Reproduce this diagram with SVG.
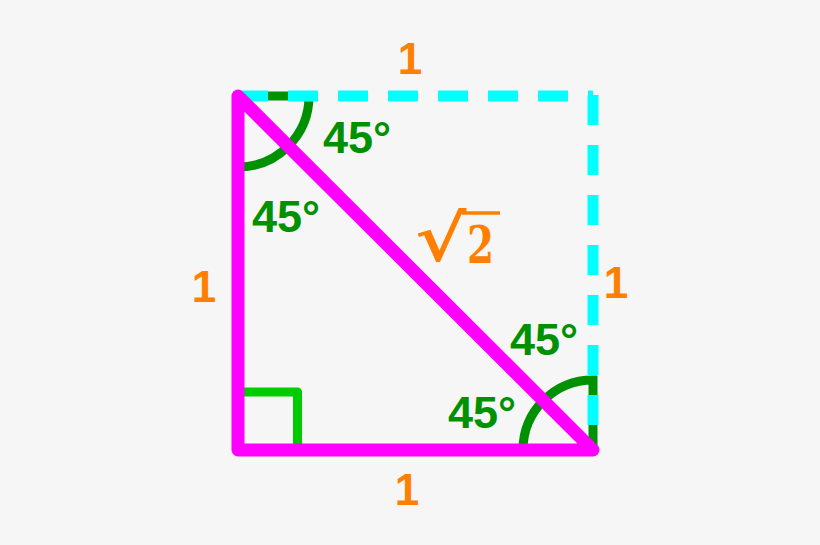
<svg xmlns="http://www.w3.org/2000/svg" width="820" height="545" viewBox="0 0 820 545">
<style>
.ang{fill:none;stroke:#009100;stroke-width:9;stroke-linejoin:miter}
.right{fill:none;stroke:#00cc00;stroke-width:9;stroke-linejoin:round}
.dash{fill:none;stroke:#00ffff;stroke-width:11;stroke-dasharray:30 20}
.tri{fill:none;stroke:#ff00ff;stroke-width:13;stroke-linejoin:round;stroke-linecap:round}
.one{font-family:"Liberation Sans",Arial,sans-serif;font-weight:bold;font-size:44px;fill:#ff8000;text-anchor:middle}
.deg{font-family:"Liberation Sans",Arial,sans-serif;font-weight:bold;font-size:45px;fill:#009100}
.rad{font-family:"DejaVu Serif",serif;font-weight:bold;fill:#ff8000}
</style>
<rect width="820" height="545" fill="#f6f6f6"/>
<g id="angle-marks">
<path id="arc-top" class="ang" d="M238,96 H309 A71,71 0 0 1 238,167 Z"/>
<path id="arc-bottom" class="ang" d="M593,450 H523 A70,70 0 0 1 593,380 Z"/>
<path id="right-angle" class="right" d="M238,392 H297.5 V450"/>
</g>
<g id="connectors">
<line class="dash" x1="238" y1="96" x2="593" y2="96"/>
<line class="dash" x1="593" y1="95" x2="593" y2="450"/>
<path class="tri" d="M238,96 L238,450 L593,450 Z"/>
</g>
<g id="labels">
<text class="one" x="410" y="74">1</text>
<text class="one" x="204" y="302">1</text>
<text class="one" x="616" y="298">1</text>
<text class="one" x="407" y="505">1</text>
<text class="deg" x="323" y="153">45°</text>
<text class="deg" x="252" y="232">45°</text>
<text class="deg" x="510" y="355">45°</text>
<text class="deg" x="448" y="428">45°</text>
<g id="sqrt2">
<text class="rad" transform="translate(415,261) scale(1.35,1.1)" font-size="58">√</text>
<text class="rad" x="467" y="263" font-size="52" textLength="27" lengthAdjust="spacingAndGlyphs">2</text>
<line x1="462" y1="213" x2="500" y2="213" stroke="#ff8000" stroke-width="3.5"/>
</g>
</g>
</svg>
